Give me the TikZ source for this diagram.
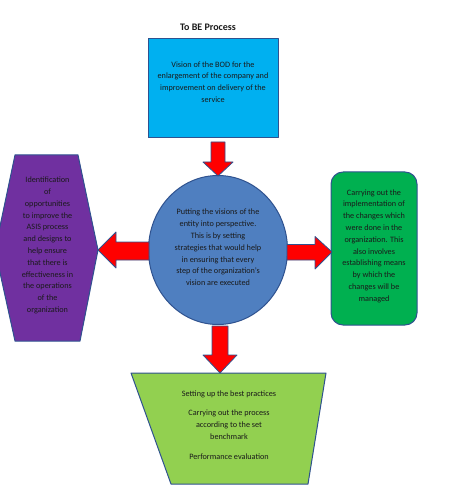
\documentclass[tikz,border=0pt]{standalone}
\usepackage{fontspec}
\setmainfont{Carlito}
\usetikzlibrary{calc}
\definecolor{skyb}{HTML}{00B0F0}
\definecolor{circb}{HTML}{4F7FC0}
\definecolor{purp}{HTML}{7030A0}
\definecolor{grn}{HTML}{00B050}
\definecolor{lgrn}{HTML}{92D050}
\definecolor{arrred}{HTML}{FF0000}
\definecolor{bord}{HTML}{2F528F}
\definecolor{txtc}{HTML}{1A1A1A}
\begin{document}
\begin{tikzpicture}[x=1pt,y=-1pt,line join=round]
\tikzset{
  edge/.style={draw=bord,line width=1pt},
  txt/.style={align=center,font=\fontsize{8.2}{11.8}\selectfont,text=txtc,inner sep=0pt},
  blockarrow/.style={fill=arrred,draw=bord,line width=0.8pt},
}
\useasboundingbox (0,0) rectangle (474,494);
\begin{scope}
\clip (0,0) rectangle (474,494);
% title
\node[font=\bfseries\fontsize{10}{12}\selectfont,text=txtc,inner sep=0pt] (title) at (208,27) {To BE Process};
% shapes
\path[edge,fill=skyb] (148,39) rectangle (278,138);
\coordinate (bodS) at (218,138);
\path[edge,fill=circb] (218,250) ellipse [x radius=69.5,y radius=74.5];
\coordinate (circN) at (218,176);
\coordinate (circS) at (220,325);
\coordinate (circW) at (149,251);
\coordinate (circE) at (287,252);
\path[edge,fill=purp] (15,155) -- (78,155) -- (98,250) -- (80,341) -- (15,341) -- (-5,250) -- cycle;
\coordinate (hexE) at (98,250);
\path[edge,fill=grn,rounded corners=12pt] (331,172) rectangle (417,325);
\coordinate (grnW) at (332,252);
\path[edge,fill=lgrn] (131,373) -- (326,373) -- (308,484) -- (171,484) -- cycle;
\coordinate (trapN) at (220,373);
\end{scope}
% block arrows
\path[blockarrow] ($(bodS)+(-7,4)$) -- ($(bodS)+(7,4)$) -- ($(circN)+(7,-14)$) -- ($(circN)+(15,-14)$) -- (circN) -- ($(circN)+(-15,-14)$) -- ($(circN)+(-7,-14)$) -- cycle;
\path[blockarrow] ($(circS)+(-8,1)$) -- ($(circS)+(8,1)$) -- ($(trapN)+(8,-18)$) -- ($(trapN)+(17,-18)$) -- (trapN) -- ($(trapN)+(-17,-18)$) -- ($(trapN)+(-8,-18)$) -- cycle;
\path[blockarrow] ($(circW)+(0,-9)$) -- ($(hexE)+(18,-8)$) -- ($(hexE)+(18,-18)$) -- (hexE) -- ($(hexE)+(18,18)$) -- ($(hexE)+(18,10)$) -- ($(circW)+(0,9)$) -- cycle;
\path[blockarrow] ($(circE)+(0,-7.5)$) -- ($(grnW)+(-17,-7.5)$) -- ($(grnW)+(-17,-15.5)$) -- (grnW) -- ($(grnW)+(-17,17)$) -- ($(grnW)+(-17,8)$) -- ($(circE)+(0,8)$) -- cycle;
% texts
\node[txt] (bodtxt) at (213,82) {Vision of the BOD for the\\enlargement of the company and\\improvement on delivery of the\\service};
\node[txt] (circtxt) at (218,247.5) {Putting the visions of the\\entity into perspective.\\This is by setting\\strategies that would help\\in ensuring that every\\step of the organization’s\\vision are executed};
\node[txt] (hextxt) at (47.5,245.5) {Identification\\of\\opportunities\\to improve the\\ASIS process\\and designs to\\help ensure\\that there is\\effectiveness in\\the operations\\of the\\organization};
\node[txt] (grntxt) at (374,246) {Carrying out the\\implementation of\\the changes which\\were done in the\\organization. This\\also involves\\establishing means\\by which the\\changes will be\\managed};
\node[txt] (traptxt) at (229,425) {Setting up the best practices\\[7.5pt]Carrying out the process\\according to the set\\benchmark\\[8pt]Performance evaluation};
\end{tikzpicture}
\end{document}
